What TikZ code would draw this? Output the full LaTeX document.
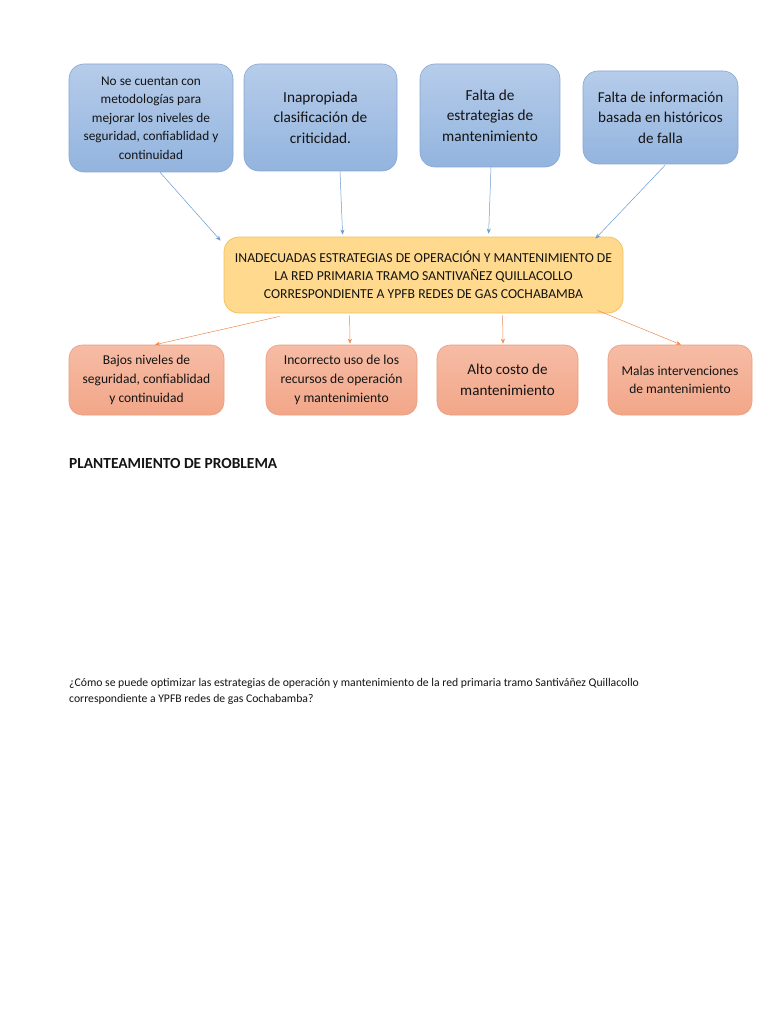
\documentclass[tikz,border=0pt]{standalone}
\usepackage{fontspec}
\setmainfont{Carlito}
\usetikzlibrary{arrows.meta}
\definecolor{bluetop}{HTML}{B6CCEA}
\definecolor{bluebot}{HTML}{93B4DE}
\definecolor{blueline}{HTML}{86A6D2}
\definecolor{orfill}{HTML}{FFD98E}
\definecolor{orline}{HTML}{F5C15A}
\definecolor{saltop}{HTML}{F6BCA5}
\definecolor{salbot}{HTML}{F2A688}
\definecolor{salline}{HTML}{E99E82}
\definecolor{txt}{HTML}{141414}
\definecolor{barrowc}{HTML}{6A9BD0}
\definecolor{oarrowc}{HTML}{EE8A50}
\tikzset{
  cause/.style={draw=blueline, line width=0.6pt, rounded corners=15pt, top color=bluetop, bottom color=bluebot, align=center, text=txt, inner sep=0pt},
  center/.style={draw=orline, line width=0.8pt, rounded corners=15pt, fill=orfill, align=center, text=txt, inner sep=0pt},
  effect/.style={draw=salline, line width=0.6pt, rounded corners=13pt, top color=saltop, bottom color=salbot, align=center, text=txt, inner sep=0pt},
  barrow/.style={draw=barrowc, line width=0.5pt, -{Stealth[length=5pt,width=4pt]}},
  oarrow/.style={draw=oarrowc, line width=0.5pt, -{Stealth[length=5pt,width=4pt]}},
  plain/.style={anchor=west, text=txt, inner sep=0pt, align=left}
}
\begin{document}
\begin{tikzpicture}[x=1pt,y=-1pt]
\path[use as bounding box, fill=white] (0,0) rectangle (768,1024);

% causes
\node[cause, minimum width=164pt, minimum height=108pt, font=\fontsize{13.3}{18.5}\selectfont] (b1) at (151,118)
  {No se cuentan con\\metodologías para\\mejorar los niveles de\\seguridad, confiablidad y\\continuidad};
\node[cause, minimum width=153pt, minimum height=107pt, font=\fontsize{15.3}{20.5}\selectfont] (b2) at (320.5,117.5)
  {Inapropiada\\clasificación de\\criticidad.};
\node[cause, minimum width=140pt, minimum height=103pt, font=\fontsize{15.3}{20.5}\selectfont] (b3) at (490,115.5)
  {Falta de\\estrategias de\\mantenimiento};
\node[cause, minimum width=155pt, minimum height=93pt, font=\fontsize{15.1}{20.5}\selectfont] (b4) at (660.5,117.5)
  {Falta de información\\basada en históricos\\de falla};

% center
\node[center, minimum width=399pt, minimum height=76pt, font=\fontsize{13.7}{18}\selectfont] (c) at (423.5,275)
  {INADECUADAS ESTRATEGIAS DE OPERACIÓN Y MANTENIMIENTO DE\\LA RED PRIMARIA TRAMO SANTIVAÑEZ QUILLACOLLO\\CORRESPONDIENTE A YPFB REDES DE GAS COCHABAMBA};

% effects
\node[effect, minimum width=155pt, minimum height=70pt, font=\fontsize{13.5}{19}\selectfont] (d1) at (146.5,380)
  {Bajos niveles de\\seguridad, confiablidad\\y continuidad};
\node[effect, minimum width=151pt, minimum height=70pt, font=\fontsize{13.6}{19}\selectfont] (d2) at (341.5,380)
  {Incorrecto uso de los\\recursos de operación\\y mantenimiento};
\node[effect, minimum width=141pt, minimum height=70pt, font=\fontsize{15.1}{21}\selectfont] (d3) at (507.5,380)
  {Alto costo de\\mantenimiento};
\node[effect, minimum width=144pt, minimum height=70pt, font=\fontsize{13.5}{18.5}\selectfont] (d4) at (680,380)
  {Malas intervenciones\\de mantenimiento};

% cause arrows
\draw[barrow] ([xshift=9pt]b1.south) -- ([xshift=-3pt,yshift=-4pt]c.north west);
\draw[barrow] ([xshift=19.5pt]b2.south) -- ([xshift=119pt,yshift=2pt]c.north west);
\draw[barrow] ([xshift=1pt]b3.south) -- ([xshift=265pt,yshift=3pt]c.north west);
\draw[barrow] ([xshift=4.5pt,yshift=-1pt]b4.south) -- ([xshift=-28pt,yshift=-2pt]c.north east);

% effect arrows
\draw[oarrow] ([xshift=56pt,yshift=-3pt]c.south west) -- ([xshift=8.5pt]d1.north);
\draw[oarrow] ([xshift=126pt,yshift=-2pt]c.south west) -- ([xshift=8.5pt,yshift=1pt]d2.north);
\draw[oarrow] ([xshift=279pt,yshift=-2pt]c.south west) -- ([xshift=-4.5pt,yshift=1pt]d3.north);
\draw[oarrow] ([xshift=-26pt,yshift=3pt]c.south east) -- ([xshift=1pt]d4.north);

% texts
\node[plain, font=\fontsize{15.4}{18}\selectfont\bfseries] (h) at (69,463) {PLANTEAMIENTO DE PROBLEMA};
\node[plain, anchor=north west, font=\fontsize{11.7}{16}\selectfont] (q) at (69,678)
  {¿Cómo se puede optimizar las estrategias de operación y mantenimiento de la red primaria tramo Santiváñez Quillacollo\\correspondiente a YPFB redes de gas Cochabamba?};
\end{tikzpicture}
\end{document}
